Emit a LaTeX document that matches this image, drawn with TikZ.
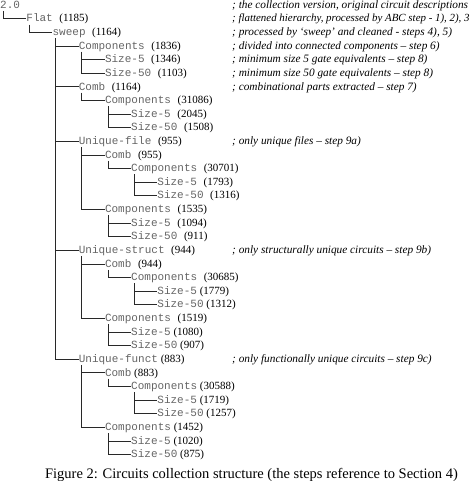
\documentclass[tikz,border=0pt]{standalone}
\usepackage{fontspec}
\setmainfont{Liberation Serif}
\setmonofont{Liberation Mono}
\usepackage{xcolor}
\usepackage{tikz}
\definecolor{TreeGray}{RGB}{100,100,100}
\definecolor{TreeLine}{RGB}{40,40,40}
\newcommand{\circname}[1]{\textcolor{TreeGray}{\texttt{#1}}}

\begin{document}
\begin{tikzpicture}[x=1pt, y=-1pt,
          item/.style={anchor=base west, inner sep=0pt, text height=7.5pt,
                       text depth=1pt, font=\fontsize{11}{13}\selectfont},
          note/.style={anchor=base west, inner sep=0pt,
                       font=\fontsize{11.3}{14}\selectfont\itshape},
          branch/.style={line width=0.6pt, TreeLine}
        ]
        \useasboundingbox (0,0) rectangle (474,481);

        % Collection tree
        \foreach \i/\lev/\txt in {
          0/0/{\circname{2.0}},
          1/1/{\circname{Flat }(1185)},
          2/2/{\circname{sweep }(1164)},
          3/3/{\circname{Components }(1836)},
          4/4/{\circname{Size-5 }(1346)},
          5/4/{\circname{Size-50 }(1103)},
          6/3/{\circname{Comb }(1164)},
          7/4/{\circname{Components }(31086)},
          8/5/{\circname{Size-5 }(2045)},
          9/5/{\circname{Size-50 }(1508)},
          10/3/{\circname{Unique-file }(955)},
          11/4/{\circname{Comb }(955)},
          12/5/{\circname{Components }(30701)},
          13/6/{\circname{Size-5 }(1793)},
          14/6/{\circname{Size-50 }(1316)},
          15/4/{\circname{Components }(1535)},
          16/5/{\circname{Size-5 }(1094)},
          17/5/{\circname{Size-50 }(911)},
          18/3/{\circname{Unique-struct }(944)},
          19/4/{\circname{Comb }(944)},
          20/5/{\circname{Components }(30685)},
          21/6/{\circname{Size-5} (1779)},
          22/6/{\circname{Size-50} (1312)},
          23/4/{\circname{Components }(1519)},
          24/5/{\circname{Size-5} (1080)},
          25/5/{\circname{Size-50} (907)},
          26/3/{\circname{Unique-funct} (883)},
          27/4/{\circname{Comb} (883)},
          28/5/{\circname{Components} (30588)},
          29/6/{\circname{Size-5} (1719)},
          30/6/{\circname{Size-50} (1257)},
          31/4/{\circname{Components} (1452)},
          32/5/{\circname{Size-5} (1020)},
          33/5/{\circname{Size-50} (875)}
        } {
          \node[item] (r\i) at ({26.2*\lev}, {8.3+13.62*\i}) {\txt};
        }

        % Branches
        \foreach \c/\p in {1/0, 2/1, 3/2, 4/3, 5/3, 6/2, 7/6, 8/7, 9/7,
                           10/2, 11/10, 12/11, 13/12, 14/12, 15/10, 16/15, 17/15,
                           18/2, 19/18, 20/19, 21/20, 22/20, 23/18, 24/23, 25/23,
                           26/2, 27/26, 28/27, 29/28, 30/28, 31/26, 32/31, 33/31} {
          \draw[branch] ([xshift=3pt, yshift=-1.5pt]r\p.south west) |- (r\c.west);
        }

        % Comments
        \foreach \i/\txt in {
          0/{; the collection version, original circuit descriptions},
          1/{\fontsize{10.9}{14}\selectfont; flattened hierarchy, processed by ABC step - 1), 2), 3},
          2/{; processed by ‘sweep’ and cleaned - steps 4), 5)},
          3/{; divided into connected components -- step 6)},
          4/{; minimum size 5 gate equivalents -- step 8)},
          5/{; minimum size 50 gate equivalents -- step 8)},
          6/{; combinational parts extracted -- step 7)},
          10/{; only unique files -- step 9a)},
          18/{; only structurally unique circuits -- step 9b)},
          26/{; only functionally unique circuits -- step 9c)}
        } {
          \node[note] (c\i) at (232, {8.3+13.62*\i}) {\txt};
        }

        \node[anchor=base, inner sep=0pt, font=\fontsize{14.5}{17}\selectfont]
              (cap) at (251.5, 478)
              {Figure 2: Circuits collection structure (the steps reference to Section 4)};
      \end{tikzpicture}
\end{document}
